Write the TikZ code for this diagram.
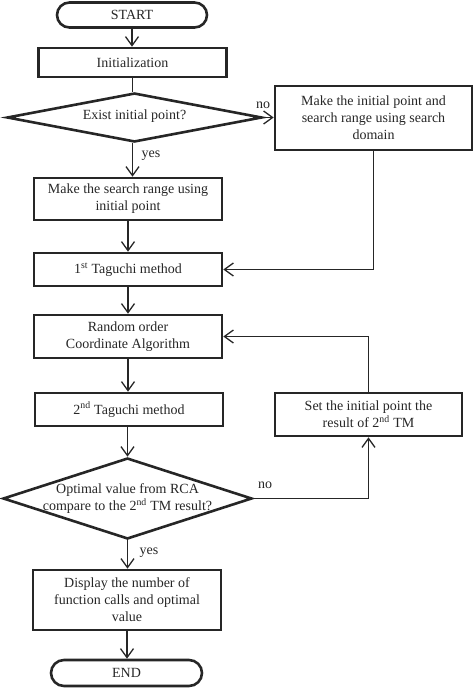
\documentclass[tikz,border=0pt]{standalone}
\usepackage{fontspec}
\setmainfont{Liberation Serif}
\usetikzlibrary{shapes.geometric,arrows.meta}
\definecolor{ink}{RGB}{38,38,38}
\tikzset{
  base/.style={draw=ink, text=ink, line width=2.6pt, align=center, inner sep=0pt,
    font=\fontsize{14}{17}\selectfont},
  box/.style={base, rectangle, minimum width=#1},
  box/.default=188pt,
  term/.style={base, rectangle, minimum width=150pt, minimum height=25pt, rounded corners=12.5pt},
  dia/.style={base, diamond, inner sep=0pt},
  txt/.style={text=ink, align=center, inner sep=0pt, font=\fontsize{14}{17}\selectfont},
  conn/.style={draw=ink, line width=1.3pt, -{Straight Barb[length=9pt,width=13pt,line width=1.3pt]}},
  plain/.style={draw=ink, line width=1.3pt},
}
\begin{document}
\begin{tikzpicture}[x=1pt,y=-1pt]
\useasboundingbox (0,0) rectangle (474,688);
% terminals and boxes
\node[term] (start) at (132,15) {START};
\node[box, minimum height=29pt] (init) at (132.5,62.5) {Initialization};
\node[dia, minimum width=255pt, minimum height=49pt] (d1) at (134.5,117.5) {};
\node[txt] (d1t) at (134.5,116) {Exist initial point?};
\node[box=197pt, minimum height=64pt] (r1) at (373.5,118) {Make the initial point and\\search range using search\\domain};
\node[box, minimum height=42pt] (b2) at (128,199) {Make the search range using\\initial point};
\node[box, minimum height=33pt] (t1) at (128,269.5) {1\textsuperscript{st} Taguchi method};
\node[box, minimum height=43pt] (rca) at (128,336.5) {Random order\\Coordinate Algorithm};
\node[box, minimum height=33pt] (t2) at (129,409.5) {2\textsuperscript{nd} Taguchi method};
\node[box=187pt, minimum height=43pt] (s) at (368.5,414.5) {Set the initial point the\\result of 2\textsuperscript{nd} TM};
\node[dia, minimum width=249pt, minimum height=81pt] (d2) at (127.5,498.5) {};
\node[txt] (d2t) at (127.5,498.5) {Optimal value from RCA\\compare to the 2\textsuperscript{nd} TM result?};
\node[box, minimum height=60pt] (disp) at (127,600) {Display the number of\\function calls and optimal\\value};
\node[term, minimum width=151pt, minimum height=26pt, rounded corners=13pt] (end) at (126.5,673) {END};
% labels
\node[txt] (no1) at (263,105) {no};
\node[txt] (yes1) at (151,156) {yes};
\node[txt] (no2) at (265,485) {no};
\node[txt] (yes2) at (149,553) {yes};
% connectors
\draw[conn] (start.south) -- (start.south |- init.north);
\draw[plain] (init.south) -- (init.south |- d1.north);
\draw[conn] (d1.east) -- (d1.east -| r1.west);
\draw[conn] (d1.south -| init.south) -- (init.south |- b2.north);
\draw[conn] (b2.south) -- (b2.south |- t1.north);
\draw[conn] (r1.south) |- (t1.east);
\draw[conn] (t1.south) -- (t1.south |- rca.north);
\draw[conn] (rca.south) -- (rca.south |- t2.north);
\draw[conn] (t2.south -| d2.north) -- (d2.north);
\draw[conn] (d2.east) -| (s.south);
\draw[conn] (s.north) |- (rca.east);
\draw[conn] (d2.south) -- (d2.south |- disp.north);
\draw[conn] (disp.south) -- (disp.south |- end.north);
\end{tikzpicture}
\end{document}
